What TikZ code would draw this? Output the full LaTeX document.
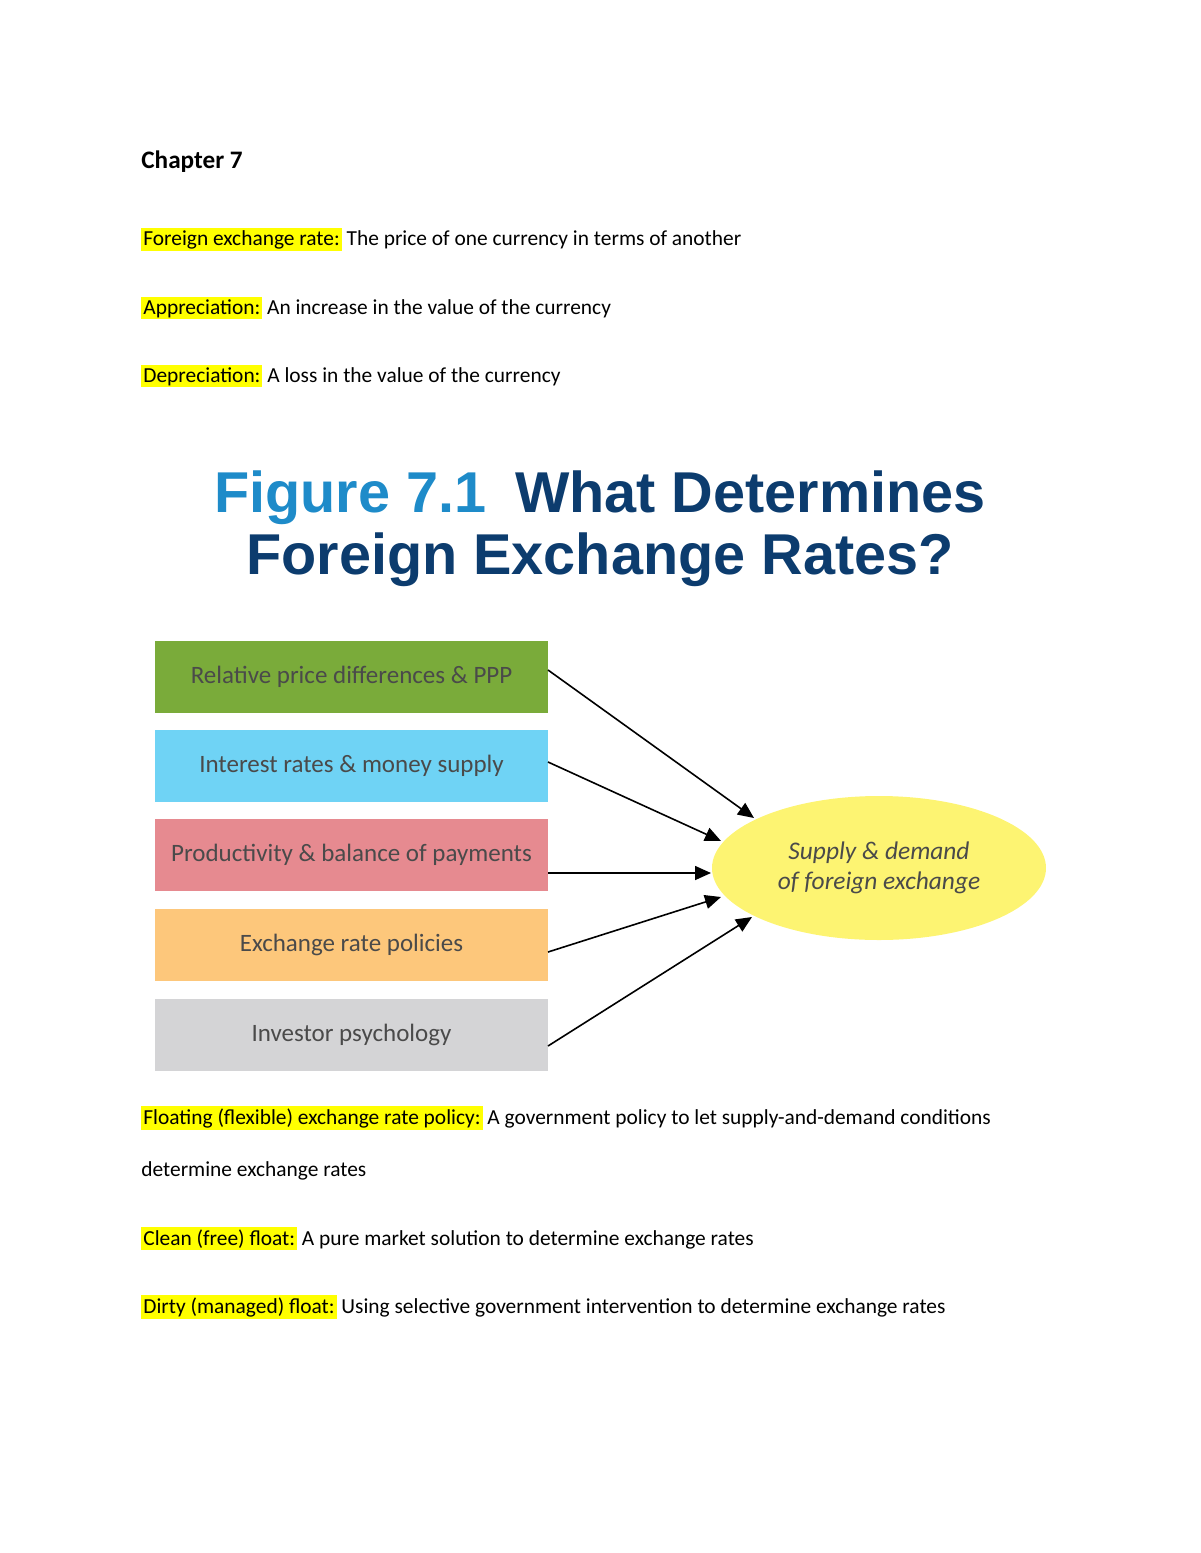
\documentclass[tikz,border=0pt]{standalone}
\usepackage{fontspec}
\setmainfont{Carlito}
\newfontfamily\titlefont{Liberation Sans}
\usetikzlibrary{arrows.meta,shapes.geometric}
\definecolor{hl}{HTML}{FFFF00}
\definecolor{tblue}{HTML}{1E8BC9}
\definecolor{tnavy}{HTML}{0C3C6E}
\definecolor{bgreen}{HTML}{7AAB3A}
\definecolor{bblue}{HTML}{6FD3F5}
\definecolor{bpink}{HTML}{E68A90}
\definecolor{borange}{HTML}{FDC77B}
\definecolor{bgray}{HTML}{D4D4D6}
\definecolor{yell}{HTML}{FDF472}
\definecolor{btext}{HTML}{4A4A4A}
\newcommand{\hlt}[1]{{\setlength{\fboxsep}{1pt}\colorbox{hl}{#1}}}
\tikzset{
 line/.style={anchor=base west,inner sep=0pt,font=\fontsize{10.7}{12}\selectfont},
 fbox/.style={minimum width=196.5pt,minimum height=36pt,inner sep=0pt,text=btext,font=\fontsize{12.5}{14}\selectfont},
 arr/.style={-{Triangle[length=8pt,width=7pt]},line width=0.8pt}
}
\begin{document}
\begin{tikzpicture}[x=0.5pt,y=-0.5pt]
\useasboundingbox (0,0) rectangle (1200,1553);
\node[line,font=\bfseries\fontsize{12.6}{14}\selectfont] (ch) at (141,168) {Chapter 7};
\node[line] (l1) at (141,245) {\hlt{Foreign exchange rate:} The price of one currency in terms of another};
\node[line] (l2) at (141,314) {\hlt{Appreciation:} An increase in the value of the currency};
\node[line] (l3) at (141,382) {\hlt{Depreciation:} A loss in the value of the currency};
\node[anchor=base,inner sep=0pt,font=\titlefont\bfseries\fontsize{28.8}{30}\selectfont] (t1) at (600,512) {\textcolor{tblue}{Figure 7.1}\hspace{0.5em}\textcolor{tnavy}{What Determines}};
\node[anchor=base,inner sep=0pt,font=\titlefont\bfseries\fontsize{28.8}{30}\selectfont,text=tnavy] (t2) at (600,574) {Foreign Exchange Rates?};
\node[fbox,fill=bgreen] (b1) at (351.5,676.5) {Relative price differences \& PPP};
\node[fbox,fill=bblue] (b2) at (351.5,766) {Interest rates \& money supply};
\node[fbox,fill=bpink] (b3) at (351.5,855) {Productivity \& balance of payments};
\node[fbox,fill=borange] (b4) at (351.5,945) {Exchange rate policies};
\node[fbox,fill=bgray] (b5) at (351.5,1034.5) {Investor psychology};
\node[ellipse,fill=yell,minimum width=167pt,minimum height=72pt,inner sep=0pt,text=btext,align=center,font=\itshape\fontsize{12.7}{15}\selectfont] (e) at (879,868) {Supply \& demand\\of foreign exchange};
\coordinate (s1) at (548,670); \coordinate (s2) at (548,762); \coordinate (s3) at (548,873);
\coordinate (s4) at (548,952); \coordinate (s5) at (548,1046);
\coordinate (e1) at (754,818); \coordinate (e2) at (721,841); \coordinate (e3) at (711,873);
\coordinate (e4) at (721,897); \coordinate (e5) at (752,917);
\foreach \i in {1,...,5} \draw[arr] (s\i) -- (e\i);
\node[line] (l4) at (141,1124) {\hlt{Floating (flexible) exchange rate policy:} A government policy to let supply-and-demand conditions};
\node[line] (l5) at (141,1176) {determine exchange rates};
\node[line] (l6) at (141,1245) {\hlt{Clean (free) float:} A pure market solution to determine exchange rates};
\node[line] (l7) at (141,1313) {\hlt{Dirty (managed) float:} Using selective government intervention to determine exchange rates};
\end{tikzpicture}
\end{document}
